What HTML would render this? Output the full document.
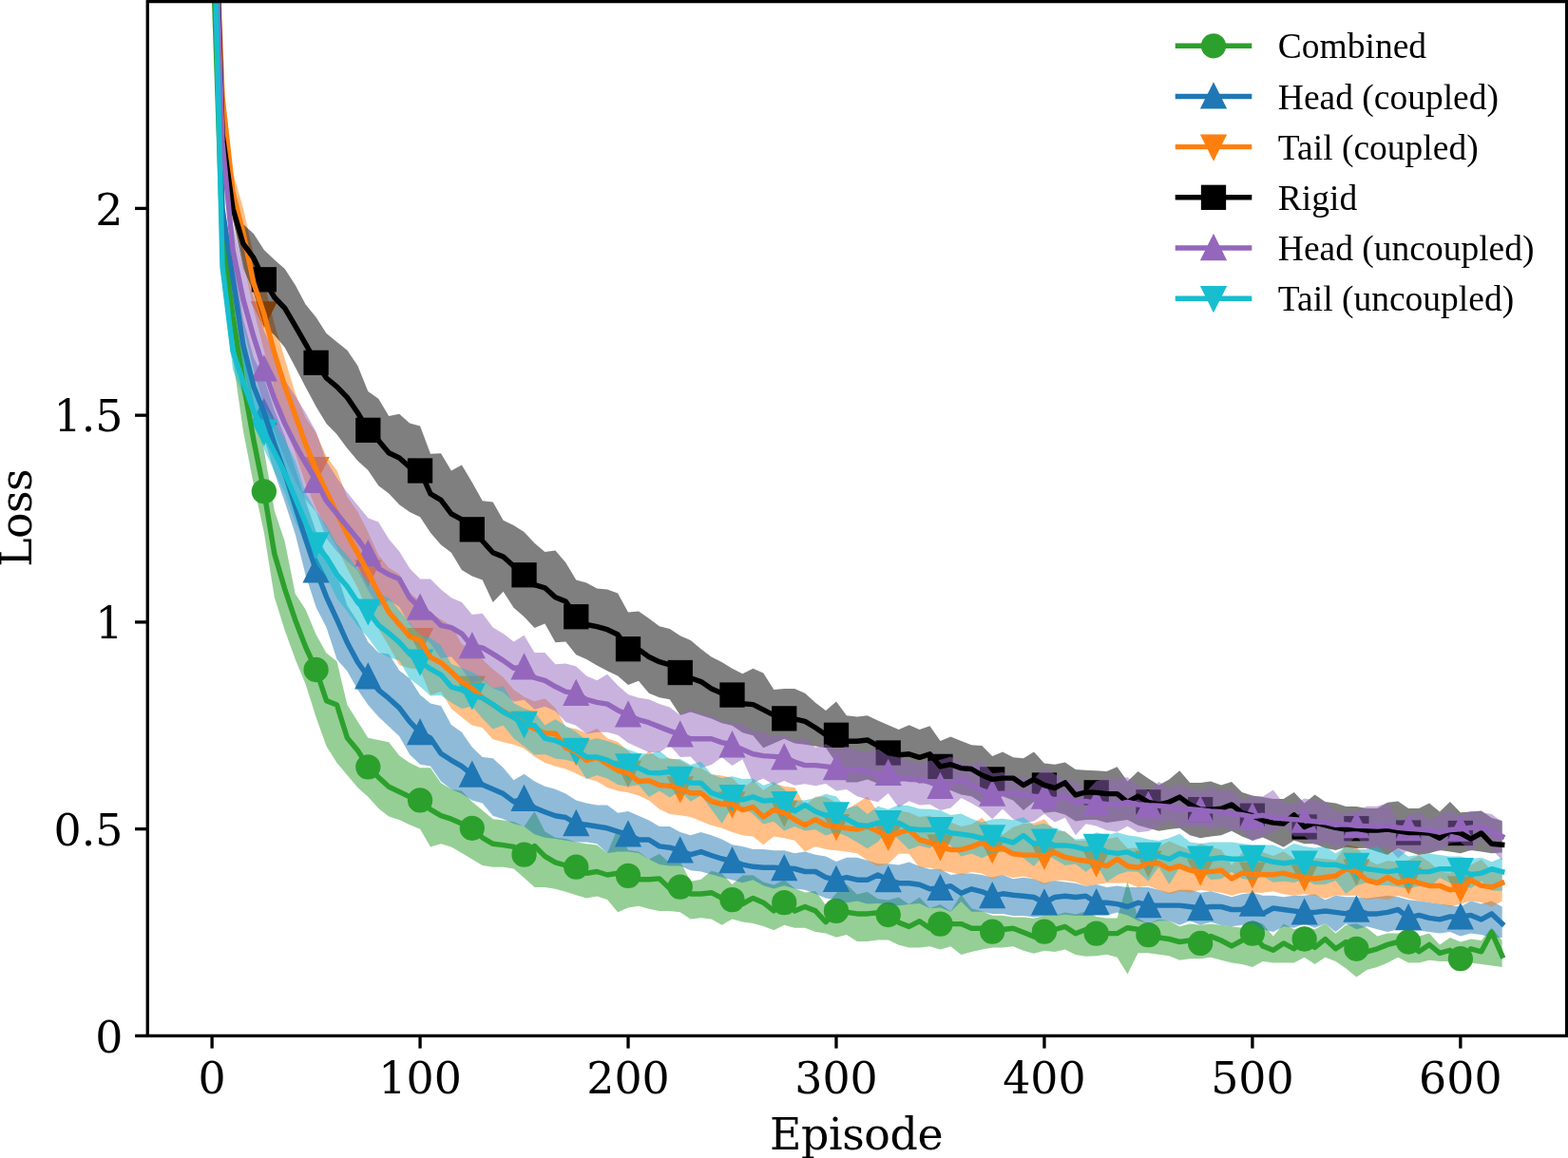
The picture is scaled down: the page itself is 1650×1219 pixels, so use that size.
<!DOCTYPE html>
<html><head><meta charset="utf-8"><title>Loss vs Episode</title>
<style>
html,body{margin:0;padding:0;background:#fff;}
body{width:1650px;height:1219px;overflow:hidden;}
svg{display:block;}
.tk{font-family:"DejaVu Serif",serif;font-size:45.83px;fill:#000;}
.lg{font-family:"Liberation Serif","Times New Roman",serif;font-size:37.5px;fill:#000;}
</style></head><body>
<svg width="1650" height="1219" viewBox="0 0 1650 1219"><defs><clipPath id="ax"><rect x="155.25" y="1.60" width="1493.35" height="1088.80"/></clipPath></defs><rect width="100%" height="100%" fill="#fff"/><g clip-path="url(#ax)"><g><circle cx="277.84" cy="517.28" r="11.55" fill="#2ca02c" stroke="#2ca02c" stroke-width="3.20" stroke-linejoin="miter" stroke-miterlimit="10"/><circle cx="332.58" cy="704.98" r="11.55" fill="#2ca02c" stroke="#2ca02c" stroke-width="3.20" stroke-linejoin="miter" stroke-miterlimit="10"/><circle cx="387.32" cy="807.33" r="11.55" fill="#2ca02c" stroke="#2ca02c" stroke-width="3.20" stroke-linejoin="miter" stroke-miterlimit="10"/><circle cx="442.06" cy="842.38" r="11.55" fill="#2ca02c" stroke="#2ca02c" stroke-width="3.20" stroke-linejoin="miter" stroke-miterlimit="10"/><circle cx="496.80" cy="871.78" r="11.55" fill="#2ca02c" stroke="#2ca02c" stroke-width="3.20" stroke-linejoin="miter" stroke-miterlimit="10"/><circle cx="551.54" cy="899.65" r="11.55" fill="#2ca02c" stroke="#2ca02c" stroke-width="3.20" stroke-linejoin="miter" stroke-miterlimit="10"/><circle cx="606.28" cy="912.72" r="11.55" fill="#2ca02c" stroke="#2ca02c" stroke-width="3.20" stroke-linejoin="miter" stroke-miterlimit="10"/><circle cx="661.02" cy="921.86" r="11.55" fill="#2ca02c" stroke="#2ca02c" stroke-width="3.20" stroke-linejoin="miter" stroke-miterlimit="10"/><circle cx="715.76" cy="933.62" r="11.55" fill="#2ca02c" stroke="#2ca02c" stroke-width="3.20" stroke-linejoin="miter" stroke-miterlimit="10"/><circle cx="770.50" cy="947.12" r="11.55" fill="#2ca02c" stroke="#2ca02c" stroke-width="3.20" stroke-linejoin="miter" stroke-miterlimit="10"/><circle cx="825.24" cy="950.17" r="11.55" fill="#2ca02c" stroke="#2ca02c" stroke-width="3.20" stroke-linejoin="miter" stroke-miterlimit="10"/><circle cx="879.98" cy="958.88" r="11.55" fill="#2ca02c" stroke="#2ca02c" stroke-width="3.20" stroke-linejoin="miter" stroke-miterlimit="10"/><circle cx="934.72" cy="963.02" r="11.55" fill="#2ca02c" stroke="#2ca02c" stroke-width="3.20" stroke-linejoin="miter" stroke-miterlimit="10"/><circle cx="989.46" cy="972.60" r="11.55" fill="#2ca02c" stroke="#2ca02c" stroke-width="3.20" stroke-linejoin="miter" stroke-miterlimit="10"/><circle cx="1044.20" cy="980.65" r="11.55" fill="#2ca02c" stroke="#2ca02c" stroke-width="3.20" stroke-linejoin="miter" stroke-miterlimit="10"/><circle cx="1098.94" cy="980.65" r="11.55" fill="#2ca02c" stroke="#2ca02c" stroke-width="3.20" stroke-linejoin="miter" stroke-miterlimit="10"/><circle cx="1153.68" cy="982.61" r="11.55" fill="#2ca02c" stroke="#2ca02c" stroke-width="3.20" stroke-linejoin="miter" stroke-miterlimit="10"/><circle cx="1208.42" cy="984.09" r="11.55" fill="#2ca02c" stroke="#2ca02c" stroke-width="3.20" stroke-linejoin="miter" stroke-miterlimit="10"/><circle cx="1263.16" cy="992.94" r="11.55" fill="#2ca02c" stroke="#2ca02c" stroke-width="3.20" stroke-linejoin="miter" stroke-miterlimit="10"/><circle cx="1317.90" cy="982.61" r="11.55" fill="#2ca02c" stroke="#2ca02c" stroke-width="3.20" stroke-linejoin="miter" stroke-miterlimit="10"/><circle cx="1372.64" cy="988.49" r="11.55" fill="#2ca02c" stroke="#2ca02c" stroke-width="3.20" stroke-linejoin="miter" stroke-miterlimit="10"/><circle cx="1427.38" cy="998.81" r="11.55" fill="#2ca02c" stroke="#2ca02c" stroke-width="3.20" stroke-linejoin="miter" stroke-miterlimit="10"/><circle cx="1482.12" cy="991.50" r="11.55" fill="#2ca02c" stroke="#2ca02c" stroke-width="3.20" stroke-linejoin="miter" stroke-miterlimit="10"/><circle cx="1536.86" cy="1009.18" r="11.55" fill="#2ca02c" stroke="#2ca02c" stroke-width="3.20" stroke-linejoin="miter" stroke-miterlimit="10"/></g>
<polygon points="223.1,-78.9 234,231.7 245,305.2 255.9,368.3 266.9,422.8 277.8,473.8 288.8,537.4 299.7,570 310.7,624.9 321.6,641.8 332.6,668 343.5,687.6 354.5,696.3 365.4,742 376.4,759.4 387.3,776.8 398.3,779 409.2,781.2 420.2,795.6 431.1,803 442.1,808.2 453,808.2 464,824.3 474.9,830.8 485.9,832.6 496.8,843.9 507.7,853.1 518.7,862.2 529.6,863.5 540.6,865.2 551.5,870 562.5,853.9 573.4,875.3 584.4,881.8 595.3,883.1 606.3,886.6 617.2,888.3 628.2,889.6 639.1,897.9 650.1,871.8 661,894.9 672,896.6 682.9,904.4 693.9,898.8 704.8,908.4 715.8,907.1 726.7,927.8 737.7,925.8 748.6,916.7 759.6,919.5 770.5,931 781.4,921.6 792.4,921.3 803.3,928.4 814.3,931.6 825.2,926.2 836.2,935.1 847.1,939.6 858.1,937.9 869,952.8 880,940.2 890.9,931 901.9,941.5 912.8,938.7 923.8,946.2 934.7,947.6 945.7,944.5 956.6,951.9 967.6,944.5 978.5,956.3 989.5,951.9 1000.4,959.3 1011.4,941.5 1022.3,956.3 1033.3,959.3 1044.2,963.7 1055.1,963.7 1066.1,965.4 1077,965.4 1088,966.7 1098.9,963.7 1109.9,963.7 1120.8,960.6 1131.8,962.4 1142.7,959.3 1153.7,965 1164.6,966.4 1175.6,966.4 1186.5,928 1197.5,966.4 1208.4,972.4 1219.4,967.8 1230.3,969.3 1241.3,975.2 1252.2,972.4 1263.2,973.7 1274.1,972.4 1285.1,973.7 1296,975.2 1307,976.7 1317.9,969.3 1328.8,972.4 1339.8,985.6 1350.7,972.4 1361.7,978.2 1372.6,975.2 1383.6,978.2 1394.5,972.3 1405.5,982.6 1416.4,973.7 1427.4,972.3 1438.3,976.7 1449.3,985.6 1460.2,982.6 1471.2,982.6 1482.1,981.1 1493.1,985.6 1504,982.6 1515,994.4 1525.9,987 1536.9,991.5 1547.8,988.5 1558.8,990 1569.7,976.7 1580.7,990 1580.7,1018 1569.7,1016.6 1558.8,1015.1 1547.8,1013.6 1536.9,1015.1 1525.9,1012.1 1515,1012.1 1504,1010.7 1493.1,1013.6 1482.1,1013.6 1471.2,1007.7 1460.2,1013.6 1449.3,1018 1438.3,1021 1427.4,1028.4 1416.4,1019.5 1405.5,1012.1 1394.5,1007.7 1383.6,1015.1 1372.6,1007.7 1361.7,1013.6 1350.7,1013.6 1339.8,1013.6 1328.8,1012.1 1317.9,1018 1307,1015.1 1296,1013.6 1285.1,1010.7 1274.1,1007.7 1263.2,1009.2 1252.2,1009.2 1241.3,1010.7 1230.3,1006.2 1219.4,1004.7 1208.4,1003.3 1197.5,1003.3 1186.5,1025.5 1175.6,1007.7 1164.6,1004.7 1153.7,1006.2 1142.7,1006.8 1131.8,1005 1120.8,999.4 1109.9,1002 1098.9,1000.7 1088,1003.7 1077,1000.7 1066.1,996.3 1055.1,997.6 1044.2,997.6 1033.3,999.4 1022.3,1002 1011.4,1005 1000.4,996.3 989.5,999.4 978.5,996.3 967.6,997.6 956.6,997.6 945.7,994.8 934.7,989.6 923.8,989.6 912.8,991.1 901.9,991.1 890.9,984.1 880,986.8 869,982.4 858.1,981.1 847.1,976.7 836.2,976.7 825.2,973.7 814.3,979.3 803.3,975 792.4,971.9 781.4,970.6 770.5,967.6 759.6,973.7 748.6,967.6 737.7,966.3 726.7,967.6 715.8,960.2 704.8,958.9 693.9,958.9 682.9,956.7 672,953.7 661,955.4 650.1,960.2 639.1,947.1 628.2,943.6 617.2,945.4 606.3,942.3 595.3,938.8 584.4,935.8 573.4,934.1 562.5,934.1 551.5,924 540.6,914.5 529.6,912.7 518.7,912.7 507.7,911 496.8,904.4 485.9,897.9 474.9,891.4 464,888.3 453,891.4 442.1,872.7 431.1,868.3 420.2,863.1 409.2,859.6 398.3,850.9 387.3,838.7 376.4,829.1 365.4,816 354.5,803 343.5,785.6 332.6,755.1 321.6,720.2 310.7,694.1 299.7,663.6 288.8,628.8 277.8,560.2 266.9,509.9 255.9,453.5 245,377.4 234,276.1 223.1,-74.6" fill="#2ca02c" fill-opacity="0.5"/>
<g><polygon points="277.84,422.55 266.29,445.65 289.39,445.65" fill="#1f77b4" stroke="#1f77b4" stroke-width="3.20" stroke-linejoin="miter" stroke-miterlimit="10"/><polygon points="332.58,588.91 321.03,612.01 344.13,612.01" fill="#1f77b4" stroke="#1f77b4" stroke-width="3.20" stroke-linejoin="miter" stroke-miterlimit="10"/><polygon points="387.32,700.84 375.77,723.94 398.87,723.94" fill="#1f77b4" stroke="#1f77b4" stroke-width="3.20" stroke-linejoin="miter" stroke-miterlimit="10"/><polygon points="442.06,759.63 430.51,782.73 453.61,782.73" fill="#1f77b4" stroke="#1f77b4" stroke-width="3.20" stroke-linejoin="miter" stroke-miterlimit="10"/><polygon points="496.80,804.05 485.25,827.15 508.35,827.15" fill="#1f77b4" stroke="#1f77b4" stroke-width="3.20" stroke-linejoin="miter" stroke-miterlimit="10"/><polygon points="551.54,829.31 539.99,852.41 563.09,852.41" fill="#1f77b4" stroke="#1f77b4" stroke-width="3.20" stroke-linejoin="miter" stroke-miterlimit="10"/><polygon points="606.28,855.44 594.73,878.54 617.83,878.54" fill="#1f77b4" stroke="#1f77b4" stroke-width="3.20" stroke-linejoin="miter" stroke-miterlimit="10"/><polygon points="661.02,866.76 649.47,889.86 672.57,889.86" fill="#1f77b4" stroke="#1f77b4" stroke-width="3.20" stroke-linejoin="miter" stroke-miterlimit="10"/><polygon points="715.76,883.75 704.21,906.85 727.31,906.85" fill="#1f77b4" stroke="#1f77b4" stroke-width="3.20" stroke-linejoin="miter" stroke-miterlimit="10"/><polygon points="770.50,894.63 758.95,917.73 782.05,917.73" fill="#1f77b4" stroke="#1f77b4" stroke-width="3.20" stroke-linejoin="miter" stroke-miterlimit="10"/><polygon points="825.24,902.47 813.69,925.57 836.79,925.57" fill="#1f77b4" stroke="#1f77b4" stroke-width="3.20" stroke-linejoin="miter" stroke-miterlimit="10"/><polygon points="879.98,914.23 868.43,937.33 891.53,937.33" fill="#1f77b4" stroke="#1f77b4" stroke-width="3.20" stroke-linejoin="miter" stroke-miterlimit="10"/><polygon points="934.72,914.67 923.17,937.77 946.27,937.77" fill="#1f77b4" stroke="#1f77b4" stroke-width="3.20" stroke-linejoin="miter" stroke-miterlimit="10"/><polygon points="989.46,923.38 977.91,946.48 1001.01,946.48" fill="#1f77b4" stroke="#1f77b4" stroke-width="3.20" stroke-linejoin="miter" stroke-miterlimit="10"/><polygon points="1044.20,931.65 1032.65,954.75 1055.75,954.75" fill="#1f77b4" stroke="#1f77b4" stroke-width="3.20" stroke-linejoin="miter" stroke-miterlimit="10"/><polygon points="1098.94,938.84 1087.39,961.94 1110.49,961.94" fill="#1f77b4" stroke="#1f77b4" stroke-width="3.20" stroke-linejoin="miter" stroke-miterlimit="10"/><polygon points="1153.68,938.62 1142.13,961.72 1165.23,961.72" fill="#1f77b4" stroke="#1f77b4" stroke-width="3.20" stroke-linejoin="miter" stroke-miterlimit="10"/><polygon points="1208.42,941.54 1196.87,964.64 1219.97,964.64" fill="#1f77b4" stroke="#1f77b4" stroke-width="3.20" stroke-linejoin="miter" stroke-miterlimit="10"/><polygon points="1263.16,944.45 1251.61,967.55 1274.71,967.55" fill="#1f77b4" stroke="#1f77b4" stroke-width="3.20" stroke-linejoin="miter" stroke-miterlimit="10"/><polygon points="1317.90,940.06 1306.35,963.16 1329.45,963.16" fill="#1f77b4" stroke="#1f77b4" stroke-width="3.20" stroke-linejoin="miter" stroke-miterlimit="10"/><polygon points="1372.64,948.85 1361.09,971.95 1384.19,971.95" fill="#1f77b4" stroke="#1f77b4" stroke-width="3.20" stroke-linejoin="miter" stroke-miterlimit="10"/><polygon points="1427.38,945.94 1415.83,969.04 1438.93,969.04" fill="#1f77b4" stroke="#1f77b4" stroke-width="3.20" stroke-linejoin="miter" stroke-miterlimit="10"/><polygon points="1482.12,954.56 1470.57,977.66 1493.67,977.66" fill="#1f77b4" stroke="#1f77b4" stroke-width="3.20" stroke-linejoin="miter" stroke-miterlimit="10"/><polygon points="1536.86,953.69 1525.31,976.79 1548.41,976.79" fill="#1f77b4" stroke="#1f77b4" stroke-width="3.20" stroke-linejoin="miter" stroke-miterlimit="10"/></g>
<polygon points="223.1,-144.2 234,206.5 245,271.7 255.9,335.8 266.9,376.4 277.8,398.3 288.8,431.9 299.7,459.6 310.7,493.5 321.6,527.3 332.6,559.8 343.5,583.6 354.5,603.7 365.4,637.5 376.4,654.2 387.3,675.7 398.3,687.1 409.2,688.4 420.2,705.7 431.1,714.2 442.1,731.5 453,740.5 464,743 474.9,763 485.9,770.7 496.8,786.5 507.7,796.9 518.7,798.2 529.6,808.2 540.6,821.3 551.5,814.7 562.5,822.6 573.4,827.8 584.4,830.8 595.3,835.6 606.3,842.6 617.2,845.6 628.2,847.4 639.1,847.4 650.1,855.7 661,853.9 672,858.7 682.9,863.5 693.9,870 704.8,870 715.8,876.1 726.7,879.2 737.7,876.1 748.6,879.2 759.6,883.5 770.5,889.2 781.4,890.9 792.4,894 803.3,894 814.3,895.3 825.2,895.3 836.2,898.3 847.1,896.6 858.1,899.7 869,901.4 880,907.1 890.9,902.7 901.9,902.7 912.8,905.7 923.8,909.2 934.7,909.2 945.7,910.5 956.6,907.5 967.6,912.1 978.5,914.9 989.5,914.9 1000.4,921 1011.4,919.5 1022.3,919.5 1033.3,921 1044.2,923.8 1055.1,921 1066.1,925.3 1077,923.8 1088,925.3 1098.9,929.7 1109.9,926.9 1120.8,928.4 1131.8,929.7 1142.7,932.7 1153.7,930.9 1164.6,933.9 1175.6,932.4 1186.5,933.9 1197.5,933.9 1208.4,933.9 1219.4,936.8 1230.3,939.8 1241.3,936.8 1252.2,936.8 1263.2,939.8 1274.1,938.3 1285.1,941.2 1296,944.2 1307,941.2 1317.9,939.8 1328.8,942.7 1339.8,942.7 1350.7,944.2 1361.7,942.7 1372.6,942.8 1383.6,941.2 1394.5,947.2 1405.5,942.8 1416.4,944.2 1427.4,944.2 1438.3,945.7 1449.3,944.2 1460.2,942.8 1471.2,944.2 1482.1,947.2 1493.1,948.6 1504,950.1 1515,951.6 1525.9,953.1 1536.9,954.5 1547.8,948.6 1558.8,951.6 1569.7,948.6 1580.7,954.5 1580.7,987 1569.7,987 1558.8,984.1 1547.8,982.6 1536.9,985.6 1525.9,981.1 1515,982.6 1504,981.1 1493.1,979.6 1482.1,979.6 1471.2,978.2 1460.2,981.1 1449.3,978.2 1438.3,975.2 1427.4,978.2 1416.4,972.3 1405.5,981.1 1394.5,972.3 1383.6,976.7 1372.6,972.3 1361.7,976.7 1350.7,975.2 1339.8,981.1 1328.8,978.2 1317.9,972.3 1307,973.7 1296,975.2 1285.1,973.7 1274.1,970.8 1263.2,973.7 1252.2,969.3 1241.3,973.7 1230.3,969.3 1219.4,969.3 1208.4,972.3 1197.5,969.3 1186.5,963.4 1175.6,960.4 1164.6,963.4 1153.7,963.4 1142.7,964.1 1131.8,964.1 1120.8,962.8 1109.9,964.1 1098.9,964.1 1088,965.4 1077,964.1 1066.1,964.1 1055.1,961.9 1044.2,961.9 1033.3,959.8 1022.3,959.8 1011.4,948.9 1000.4,959.8 989.5,955.4 978.5,956.3 967.6,951 956.6,951.9 945.7,953.2 934.7,951.9 923.8,951 912.8,951.5 901.9,948.4 890.9,950.2 880,947.1 869,945.4 858.1,941 847.1,936.7 836.2,935.4 825.2,932.3 814.3,935.4 803.3,932.3 792.4,926.2 781.4,929.3 770.5,926.2 759.6,923.6 748.6,920.6 737.7,917.5 726.7,916.2 715.8,911.4 704.8,911.4 693.9,910.1 682.9,904.4 672,897.9 661,896.6 650.1,896.6 639.1,897.9 628.2,888.3 617.2,886.6 606.3,886.6 595.3,884.8 584.4,883.1 573.4,881.8 562.5,878.3 551.5,870 540.6,867 529.6,862.2 518.7,858.7 507.7,845.6 496.8,842.6 485.9,835.6 474.9,830.8 464,822.6 453,806.5 442.1,804.7 431.1,794.2 420.2,774.9 409.2,764.7 398.3,754.4 387.3,742.1 376.4,726 365.4,706.5 354.5,694 343.5,660.5 332.6,639.2 321.6,605.4 310.7,562.3 299.7,528.4 288.8,497.4 277.8,460.8 266.9,435.6 255.9,385.2 245,312.7 234,233.2 223.1,-139.9" fill="#1f77b4" fill-opacity="0.5"/>
<g><polygon points="277.84,342.00 266.29,318.90 289.39,318.90" fill="#ff7f0e" stroke="#ff7f0e" stroke-width="3.20" stroke-linejoin="miter" stroke-miterlimit="10"/><polygon points="332.58,505.75 321.03,482.65 344.13,482.65" fill="#ff7f0e" stroke="#ff7f0e" stroke-width="3.20" stroke-linejoin="miter" stroke-miterlimit="10"/><polygon points="387.32,614.19 375.77,591.09 398.87,591.09" fill="#ff7f0e" stroke="#ff7f0e" stroke-width="3.20" stroke-linejoin="miter" stroke-miterlimit="10"/><polygon points="442.06,685.61 430.51,662.51 453.61,662.51" fill="#ff7f0e" stroke="#ff7f0e" stroke-width="3.20" stroke-linejoin="miter" stroke-miterlimit="10"/><polygon points="496.80,736.13 485.25,713.03 508.35,713.03" fill="#ff7f0e" stroke="#ff7f0e" stroke-width="3.20" stroke-linejoin="miter" stroke-miterlimit="10"/><polygon points="551.54,773.15 539.99,750.05 563.09,750.05" fill="#ff7f0e" stroke="#ff7f0e" stroke-width="3.20" stroke-linejoin="miter" stroke-miterlimit="10"/><polygon points="606.28,802.76 594.73,779.66 617.83,779.66" fill="#ff7f0e" stroke="#ff7f0e" stroke-width="3.20" stroke-linejoin="miter" stroke-miterlimit="10"/><polygon points="661.02,825.41 649.47,802.31 672.57,802.31" fill="#ff7f0e" stroke="#ff7f0e" stroke-width="3.20" stroke-linejoin="miter" stroke-miterlimit="10"/><polygon points="715.76,841.96 704.21,818.86 727.31,818.86" fill="#ff7f0e" stroke="#ff7f0e" stroke-width="3.20" stroke-linejoin="miter" stroke-miterlimit="10"/><polygon points="770.50,858.07 758.95,834.97 782.05,834.97" fill="#ff7f0e" stroke="#ff7f0e" stroke-width="3.20" stroke-linejoin="miter" stroke-miterlimit="10"/><polygon points="825.24,867.22 813.69,844.12 836.79,844.12" fill="#ff7f0e" stroke="#ff7f0e" stroke-width="3.20" stroke-linejoin="miter" stroke-miterlimit="10"/><polygon points="879.98,881.59 868.43,858.49 891.53,858.49" fill="#ff7f0e" stroke="#ff7f0e" stroke-width="3.20" stroke-linejoin="miter" stroke-miterlimit="10"/><polygon points="934.72,892.47 923.17,869.37 946.27,869.37" fill="#ff7f0e" stroke="#ff7f0e" stroke-width="3.20" stroke-linejoin="miter" stroke-miterlimit="10"/><polygon points="989.46,902.93 977.91,879.83 1001.01,879.83" fill="#ff7f0e" stroke="#ff7f0e" stroke-width="3.20" stroke-linejoin="miter" stroke-miterlimit="10"/><polygon points="1044.20,905.98 1032.65,882.88 1055.75,882.88" fill="#ff7f0e" stroke="#ff7f0e" stroke-width="3.20" stroke-linejoin="miter" stroke-miterlimit="10"/><polygon points="1098.94,912.51 1087.39,889.41 1110.49,889.41" fill="#ff7f0e" stroke="#ff7f0e" stroke-width="3.20" stroke-linejoin="miter" stroke-miterlimit="10"/><polygon points="1153.68,920.26 1142.13,897.16 1165.23,897.16" fill="#ff7f0e" stroke="#ff7f0e" stroke-width="3.20" stroke-linejoin="miter" stroke-miterlimit="10"/><polygon points="1208.42,920.26 1196.87,897.16 1219.97,897.16" fill="#ff7f0e" stroke="#ff7f0e" stroke-width="3.20" stroke-linejoin="miter" stroke-miterlimit="10"/><polygon points="1263.16,929.14 1251.61,906.04 1274.71,906.04" fill="#ff7f0e" stroke="#ff7f0e" stroke-width="3.20" stroke-linejoin="miter" stroke-miterlimit="10"/><polygon points="1317.90,932.11 1306.35,909.01 1329.45,909.01" fill="#ff7f0e" stroke="#ff7f0e" stroke-width="3.20" stroke-linejoin="miter" stroke-miterlimit="10"/><polygon points="1372.64,935.07 1361.09,911.97 1384.19,911.97" fill="#ff7f0e" stroke="#ff7f0e" stroke-width="3.20" stroke-linejoin="miter" stroke-miterlimit="10"/><polygon points="1427.38,929.14 1415.83,906.04 1438.93,906.04" fill="#ff7f0e" stroke="#ff7f0e" stroke-width="3.20" stroke-linejoin="miter" stroke-miterlimit="10"/><polygon points="1482.12,938.03 1470.57,914.93 1493.67,914.93" fill="#ff7f0e" stroke="#ff7f0e" stroke-width="3.20" stroke-linejoin="miter" stroke-miterlimit="10"/><polygon points="1536.86,946.87 1525.31,923.77 1548.41,923.77" fill="#ff7f0e" stroke="#ff7f0e" stroke-width="3.20" stroke-linejoin="miter" stroke-miterlimit="10"/></g>
<polygon points="223.1,-174.7 234,89.1 245,181 255.9,219.1 266.9,268.3 277.8,296.3 288.8,341.3 299.7,377.7 310.7,413.7 321.6,439.8 332.6,455.7 343.5,480.7 354.5,495.3 365.4,523.3 376.4,538.5 387.3,560.2 398.3,584.6 409.2,597.7 420.2,604.5 431.1,624 442.1,632.7 453,645.4 464,652 474.9,658.6 485.9,678.1 496.8,683.4 507.7,694.1 518.7,704.6 529.6,712.9 540.6,725.9 551.5,733.5 562.5,738.2 573.4,735.2 584.4,745.3 595.3,765.3 606.3,767.3 617.2,771.9 628.2,766.8 639.1,777.3 650.1,780.9 661,790.4 672,800 682.9,790.7 693.9,798.6 704.8,798.2 715.8,800.4 726.7,806.6 737.7,808.5 748.6,814.9 759.6,816.5 770.5,818.7 781.4,829.9 792.4,821.5 803.3,832.1 814.3,824.6 825.2,827.8 836.2,828.9 847.1,847.9 858.1,838.6 869,838.8 880,845.2 890.9,852 901.9,845.6 912.8,838.6 923.8,854.9 934.7,857.9 945.7,853.5 956.6,855.3 967.6,860 978.5,858.4 989.5,867.6 1000.4,865.4 1011.4,870.1 1022.3,867.7 1033.3,860.7 1044.2,872 1055.1,878.7 1066.1,870.8 1077,867 1088,866.5 1098.9,862.3 1109.9,874.8 1120.8,875 1131.8,884.9 1142.7,884.7 1153.7,887.6 1164.6,883.6 1175.6,881 1186.5,893.1 1197.5,892.5 1208.4,892.3 1219.4,891.1 1230.3,885.6 1241.3,890.3 1252.2,894.4 1263.2,888.1 1274.1,891.8 1285.1,894.4 1296,910.8 1307,897.7 1317.9,903.5 1328.8,896.9 1339.8,901 1350.7,896.3 1361.7,903.9 1372.6,906.5 1383.6,903.3 1394.5,904 1405.5,905.5 1416.4,889.2 1427.4,891.6 1438.3,904.9 1449.3,909.9 1460.2,906.1 1471.2,907.5 1482.1,905.4 1493.1,900.6 1504,907.3 1515,917.6 1525.9,919.1 1536.9,911.3 1547.8,910.5 1558.8,904.8 1569.7,916.5 1580.7,915.7 1580.7,948.6 1569.7,954.5 1558.8,950.1 1547.8,948.6 1536.9,951.6 1525.9,954.5 1515,951.6 1504,950.1 1493.1,948.6 1482.1,945.7 1471.2,942.8 1460.2,947.2 1449.3,945.7 1438.3,947.2 1427.4,942.8 1416.4,942.8 1405.5,942.8 1394.5,945.7 1383.6,942.8 1372.6,941.2 1361.7,942.7 1350.7,941.2 1339.8,938.3 1328.8,939.8 1317.9,939.8 1307,939.8 1296,942.7 1285.1,939.8 1274.1,938.3 1263.2,936.8 1252.2,939.8 1241.3,938.3 1230.3,941.2 1219.4,936.8 1208.4,932.4 1197.5,933.9 1186.5,929.4 1175.6,929.4 1164.6,929.4 1153.7,930.9 1142.7,932.7 1131.8,928.4 1120.8,926.8 1109.9,926.8 1098.9,931.2 1088,925.3 1077,922.4 1066.1,923.9 1055.1,921 1044.2,925.3 1033.3,919.4 1022.3,917.9 1011.4,921 1000.4,917.9 989.5,916.5 978.5,913.6 967.6,913.6 956.6,898.8 945.7,898.8 934.7,909.2 923.8,912 912.8,905.7 901.9,898.3 890.9,896.6 880,895.3 869,894 858.1,890.9 847.1,896.6 836.2,884.8 825.2,882.2 814.3,880.5 803.3,889.2 792.4,880.5 781.4,879.2 770.5,876.1 759.6,871.8 748.6,868.7 737.7,864.4 726.7,860 715.8,858.3 704.8,857 693.9,851.7 682.9,842.6 672,837.4 661,834.3 650.1,832.6 639.1,829.1 628.2,822.6 617.2,819.5 606.3,814.3 595.3,809.5 584.4,806.5 573.4,803 562.5,796.4 551.5,788 540.6,783.7 529.6,781.2 518.7,778.2 507.7,766.1 496.8,763.4 485.9,755 474.9,745.9 464,727.9 453,731.7 442.1,705 431.1,703.4 420.2,700.1 409.2,679.9 398.3,662 387.3,645.3 376.4,618.8 365.4,598.4 354.5,576.6 343.5,556.9 332.6,535.3 321.6,508.9 310.7,477 299.7,443.7 288.8,410.9 277.8,369.1 266.9,326.3 255.9,275.9 245,225.3 234,119.1 223.1,-170.4" fill="#ff7f0e" fill-opacity="0.5"/>
<g><rect x="266.29" y="282.76" width="23.10" height="23.10" fill="#000000" stroke="#000000" stroke-width="3.20" stroke-linejoin="miter" stroke-miterlimit="10"/><rect x="321.03" y="370.29" width="23.10" height="23.10" fill="#000000" stroke="#000000" stroke-width="3.20" stroke-linejoin="miter" stroke-miterlimit="10"/><rect x="375.77" y="441.28" width="23.10" height="23.10" fill="#000000" stroke="#000000" stroke-width="3.20" stroke-linejoin="miter" stroke-miterlimit="10"/><rect x="430.51" y="483.96" width="23.10" height="23.10" fill="#000000" stroke="#000000" stroke-width="3.20" stroke-linejoin="miter" stroke-miterlimit="10"/><rect x="485.25" y="545.80" width="23.10" height="23.10" fill="#000000" stroke="#000000" stroke-width="3.20" stroke-linejoin="miter" stroke-miterlimit="10"/><rect x="539.99" y="593.70" width="23.10" height="23.10" fill="#000000" stroke="#000000" stroke-width="3.20" stroke-linejoin="miter" stroke-miterlimit="10"/><rect x="594.73" y="637.69" width="23.10" height="23.10" fill="#000000" stroke="#000000" stroke-width="3.20" stroke-linejoin="miter" stroke-miterlimit="10"/><rect x="649.47" y="671.66" width="23.10" height="23.10" fill="#000000" stroke="#000000" stroke-width="3.20" stroke-linejoin="miter" stroke-miterlimit="10"/><rect x="704.21" y="696.48" width="23.10" height="23.10" fill="#000000" stroke="#000000" stroke-width="3.20" stroke-linejoin="miter" stroke-miterlimit="10"/><rect x="758.95" y="720.00" width="23.10" height="23.10" fill="#000000" stroke="#000000" stroke-width="3.20" stroke-linejoin="miter" stroke-miterlimit="10"/><rect x="813.69" y="744.82" width="23.10" height="23.10" fill="#000000" stroke="#000000" stroke-width="3.20" stroke-linejoin="miter" stroke-miterlimit="10"/><rect x="868.43" y="762.24" width="23.10" height="23.10" fill="#000000" stroke="#000000" stroke-width="3.20" stroke-linejoin="miter" stroke-miterlimit="10"/><rect x="923.17" y="780.97" width="23.10" height="23.10" fill="#000000" stroke="#000000" stroke-width="3.20" stroke-linejoin="miter" stroke-miterlimit="10"/><rect x="977.91" y="795.34" width="23.10" height="23.10" fill="#000000" stroke="#000000" stroke-width="3.20" stroke-linejoin="miter" stroke-miterlimit="10"/><rect x="1032.65" y="808.84" width="23.10" height="23.10" fill="#000000" stroke="#000000" stroke-width="3.20" stroke-linejoin="miter" stroke-miterlimit="10"/><rect x="1087.39" y="814.94" width="23.10" height="23.10" fill="#000000" stroke="#000000" stroke-width="3.20" stroke-linejoin="miter" stroke-miterlimit="10"/><rect x="1142.13" y="822.78" width="23.10" height="23.10" fill="#000000" stroke="#000000" stroke-width="3.20" stroke-linejoin="miter" stroke-miterlimit="10"/><rect x="1196.87" y="832.79" width="23.10" height="23.10" fill="#000000" stroke="#000000" stroke-width="3.20" stroke-linejoin="miter" stroke-miterlimit="10"/><rect x="1251.61" y="840.63" width="23.10" height="23.10" fill="#000000" stroke="#000000" stroke-width="3.20" stroke-linejoin="miter" stroke-miterlimit="10"/><rect x="1306.35" y="847.16" width="23.10" height="23.10" fill="#000000" stroke="#000000" stroke-width="3.20" stroke-linejoin="miter" stroke-miterlimit="10"/><rect x="1361.09" y="858.92" width="23.10" height="23.10" fill="#000000" stroke="#000000" stroke-width="3.20" stroke-linejoin="miter" stroke-miterlimit="10"/><rect x="1415.83" y="860.66" width="23.10" height="23.10" fill="#000000" stroke="#000000" stroke-width="3.20" stroke-linejoin="miter" stroke-miterlimit="10"/><rect x="1470.57" y="865.02" width="23.10" height="23.10" fill="#000000" stroke="#000000" stroke-width="3.20" stroke-linejoin="miter" stroke-miterlimit="10"/><rect x="1525.31" y="865.46" width="23.10" height="23.10" fill="#000000" stroke="#000000" stroke-width="3.20" stroke-linejoin="miter" stroke-miterlimit="10"/></g>
<polygon points="223.1,-218.3 234,136.5 245,204.1 255.9,236 266.9,246 277.8,263 288.8,273.4 299.7,283 310.7,300 321.6,320.4 332.6,333.9 343.5,350.9 354.5,360.1 365.4,368.8 376.4,384.9 387.3,411.9 398.3,419.7 409.2,438 420.2,435.8 431.1,445.4 442.1,448.5 453,477.7 464,477.2 474.9,495.5 485.9,489.4 496.8,507.7 507.7,527.3 518.7,528.6 529.6,547.8 540.6,553 551.5,560 562.5,571.7 573.4,580.9 584.4,579.6 595.3,592.2 606.3,610.5 617.2,613.5 628.2,619.6 639.1,620.5 650.1,624.4 661,644.4 672,643.6 682.9,651 693.9,659.3 704.8,661.9 715.8,669.3 726.7,674.1 737.7,683.2 748.6,691.5 759.6,697.1 770.5,703.7 781.4,709.3 792.4,703.7 803.3,708.5 814.3,725.9 825.2,725 836.2,725 847.1,729.8 858.1,739.8 869,748.1 880,738.5 890.9,753.3 901.9,754.6 912.8,753.3 923.8,758.5 934.7,763.3 945.7,768.1 956.6,763.3 967.6,768.1 978.5,764.2 989.5,779.9 1000.4,775.5 1011.4,779.9 1022.3,784.2 1033.3,785.1 1044.2,796 1055.1,791.6 1066.1,797.3 1077,798.2 1088,791.6 1098.9,803.4 1109.9,804.7 1120.8,802.5 1131.8,809.9 1142.7,810.8 1153.7,811.2 1164.6,812.1 1175.6,807.3 1186.5,822.6 1197.5,812.1 1208.4,819.5 1219.4,826.5 1230.3,820.4 1241.3,811.2 1252.2,823.9 1263.2,823.9 1274.1,822.6 1285.1,826.5 1296,823 1307,833.9 1317.9,837.4 1328.8,839.1 1339.8,840.9 1350.7,840.9 1361.7,833.9 1372.6,845.6 1383.6,836.5 1394.5,843.9 1405.5,845.6 1416.4,849.1 1427.4,849.1 1438.3,850.9 1449.3,850.9 1460.2,844.8 1471.2,843.5 1482.1,850.9 1493.1,850.9 1504,845.6 1515,854.4 1525.9,843.9 1536.9,855.2 1547.8,854.4 1558.8,853.5 1569.7,860.9 1580.7,863.9 1580.7,897.5 1569.7,898.3 1558.8,896.6 1547.8,894.9 1536.9,898.3 1525.9,896.6 1515,894.9 1504,898.3 1493.1,900.1 1482.1,896.6 1471.2,893.1 1460.2,900.1 1449.3,896.6 1438.3,892.7 1427.4,893.1 1416.4,891.8 1405.5,894.9 1394.5,892.7 1383.6,888.3 1372.6,888.3 1361.7,884.8 1350.7,891.8 1339.8,886.6 1328.8,881.4 1317.9,884.8 1307,880.5 1296,874.8 1285.1,879.2 1274.1,880.5 1263.2,882.2 1252.2,879.2 1241.3,871.8 1230.3,873.1 1219.4,874.8 1208.4,871.8 1197.5,868.7 1186.5,863.1 1175.6,864.4 1164.6,866.1 1153.7,863.1 1142.7,863.1 1131.8,864.4 1120.8,857.4 1109.9,854.4 1098.9,855.7 1088,843.9 1077,853.1 1066.1,842.6 1055.1,838.2 1044.2,842.6 1033.3,845.6 1022.3,838.2 1011.4,836.5 1000.4,832.1 989.5,832.1 978.5,823.4 967.6,824.7 956.6,820.4 945.7,823.4 934.7,824.7 923.8,824.7 912.8,820.4 901.9,823.4 890.9,823.4 880,803 869,787.3 858.1,785.6 847.1,783.8 836.2,782.5 825.2,777.7 814.3,782.5 803.3,787.3 792.4,774.2 781.4,771.2 770.5,763.8 759.6,761.2 748.6,756.4 737.7,752.9 726.7,749.4 715.8,752.9 704.8,736.3 693.9,734.2 682.9,729.8 672,716.7 661,721.1 650.1,711.5 639.1,706.3 628.2,700.6 617.2,694.1 606.3,689.3 595.3,675.4 584.4,676.2 573.4,656.6 562.5,661 551.5,649.2 540.6,639.7 529.6,622.7 518.7,634 507.7,610.5 496.8,606.6 485.9,600 474.9,581.7 464,573.5 453,560.8 442.1,544.3 431.1,539.1 420.2,531.2 409.2,519.5 398.3,511.2 387.3,495.1 376.4,485.1 365.4,472 354.5,457.2 343.5,445.9 332.6,428 321.6,407.5 310.7,386.6 299.7,365.7 288.8,352.7 277.8,343.1 266.9,308.5 255.9,282.2 245,231 234,144.9 223.1,-213.9" fill="#000000" fill-opacity="0.5"/>
<g><polygon points="277.84,376.82 266.29,399.92 289.39,399.92" fill="#9467bd" stroke="#9467bd" stroke-width="3.20" stroke-linejoin="miter" stroke-miterlimit="10"/><polygon points="332.58,494.41 321.03,517.51 344.13,517.51" fill="#9467bd" stroke="#9467bd" stroke-width="3.20" stroke-linejoin="miter" stroke-miterlimit="10"/><polygon points="387.32,571.49 375.77,594.59 398.87,594.59" fill="#9467bd" stroke="#9467bd" stroke-width="3.20" stroke-linejoin="miter" stroke-miterlimit="10"/><polygon points="442.06,628.11 430.51,651.21 453.61,651.21" fill="#9467bd" stroke="#9467bd" stroke-width="3.20" stroke-linejoin="miter" stroke-miterlimit="10"/><polygon points="496.80,668.61 485.25,691.71 508.35,691.71" fill="#9467bd" stroke="#9467bd" stroke-width="3.20" stroke-linejoin="miter" stroke-miterlimit="10"/><polygon points="551.54,690.82 539.99,713.92 563.09,713.92" fill="#9467bd" stroke="#9467bd" stroke-width="3.20" stroke-linejoin="miter" stroke-miterlimit="10"/><polygon points="606.28,718.26 594.73,741.36 617.83,741.36" fill="#9467bd" stroke="#9467bd" stroke-width="3.20" stroke-linejoin="miter" stroke-miterlimit="10"/><polygon points="661.02,740.90 649.47,764.00 672.57,764.00" fill="#9467bd" stroke="#9467bd" stroke-width="3.20" stroke-linejoin="miter" stroke-miterlimit="10"/><polygon points="715.76,761.81 704.21,784.91 727.31,784.91" fill="#9467bd" stroke="#9467bd" stroke-width="3.20" stroke-linejoin="miter" stroke-miterlimit="10"/><polygon points="770.50,772.69 758.95,795.79 782.05,795.79" fill="#9467bd" stroke="#9467bd" stroke-width="3.20" stroke-linejoin="miter" stroke-miterlimit="10"/><polygon points="825.24,785.76 813.69,808.86 836.79,808.86" fill="#9467bd" stroke="#9467bd" stroke-width="3.20" stroke-linejoin="miter" stroke-miterlimit="10"/><polygon points="879.98,796.65 868.43,819.75 891.53,819.75" fill="#9467bd" stroke="#9467bd" stroke-width="3.20" stroke-linejoin="miter" stroke-miterlimit="10"/><polygon points="934.72,802.31 923.17,825.41 946.27,825.41" fill="#9467bd" stroke="#9467bd" stroke-width="3.20" stroke-linejoin="miter" stroke-miterlimit="10"/><polygon points="989.46,816.24 977.91,839.34 1001.01,839.34" fill="#9467bd" stroke="#9467bd" stroke-width="3.20" stroke-linejoin="miter" stroke-miterlimit="10"/><polygon points="1044.20,824.08 1032.65,847.18 1055.75,847.18" fill="#9467bd" stroke="#9467bd" stroke-width="3.20" stroke-linejoin="miter" stroke-miterlimit="10"/><polygon points="1098.94,827.13 1087.39,850.23 1110.49,850.23" fill="#9467bd" stroke="#9467bd" stroke-width="3.20" stroke-linejoin="miter" stroke-miterlimit="10"/><polygon points="1153.68,834.10 1142.13,857.20 1165.23,857.20" fill="#9467bd" stroke="#9467bd" stroke-width="3.20" stroke-linejoin="miter" stroke-miterlimit="10"/><polygon points="1208.42,836.28 1196.87,859.38 1219.97,859.38" fill="#9467bd" stroke="#9467bd" stroke-width="3.20" stroke-linejoin="miter" stroke-miterlimit="10"/><polygon points="1263.16,841.07 1251.61,864.17 1274.71,864.17" fill="#9467bd" stroke="#9467bd" stroke-width="3.20" stroke-linejoin="miter" stroke-miterlimit="10"/><polygon points="1317.90,848.04 1306.35,871.13 1329.45,871.13" fill="#9467bd" stroke="#9467bd" stroke-width="3.20" stroke-linejoin="miter" stroke-miterlimit="10"/><polygon points="1372.64,851.95 1361.09,875.05 1384.19,875.05" fill="#9467bd" stroke="#9467bd" stroke-width="3.20" stroke-linejoin="miter" stroke-miterlimit="10"/><polygon points="1427.38,857.62 1415.83,880.72 1438.93,880.72" fill="#9467bd" stroke="#9467bd" stroke-width="3.20" stroke-linejoin="miter" stroke-miterlimit="10"/><polygon points="1482.12,860.66 1470.57,883.76 1493.67,883.76" fill="#9467bd" stroke="#9467bd" stroke-width="3.20" stroke-linejoin="miter" stroke-miterlimit="10"/><polygon points="1536.86,861.10 1525.31,884.20 1548.41,884.20" fill="#9467bd" stroke="#9467bd" stroke-width="3.20" stroke-linejoin="miter" stroke-miterlimit="10"/></g>
<polygon points="223.1,-196.5 234,132 245,236.1 255.9,280.9 266.9,312.5 277.8,348.2 288.8,372.6 299.7,400 310.7,416.9 321.6,434.5 332.6,454.6 343.5,485.5 354.5,502.9 365.4,518.6 376.4,532.1 387.3,545.2 398.3,549.5 409.2,567.4 420.2,580.4 431.1,598.3 442.1,609.6 453,609.6 464,620.5 474.9,629.2 485.9,634 496.8,647.1 507.7,645.8 518.7,660.6 529.6,667.1 540.6,675.4 551.5,668.8 562.5,687.1 573.4,687.1 584.4,699.3 595.3,698.5 606.3,701.5 617.2,711.5 628.2,716.3 639.1,709.8 650.1,721.5 661,731.1 672,734.6 682.9,736.3 693.9,741.1 704.8,744.6 715.8,752.9 726.7,746.4 737.7,751.1 748.6,752.9 759.6,759.4 770.5,761.2 781.4,761.6 792.4,769.6 803.3,770.5 814.3,775.6 825.2,773.8 836.2,779.5 847.1,776.6 858.1,787.1 869,783.3 880,788.9 890.9,785.5 901.9,790.2 912.8,791.5 923.8,788.8 934.7,789.2 945.7,795.9 956.6,800.6 967.6,804.3 978.5,800.8 989.5,799.7 1000.4,796.5 1011.4,802.5 1022.3,805.1 1033.3,800.7 1044.2,814 1055.1,813.1 1066.1,816.6 1077,817.9 1088,819.9 1098.9,807.9 1109.9,814.9 1120.8,820.4 1131.8,822.5 1142.7,833.7 1153.7,822.2 1164.6,819.2 1175.6,820 1186.5,818.3 1197.5,826.9 1208.4,832 1219.4,822.9 1230.3,828.9 1241.3,825.5 1252.2,830.2 1263.2,832.8 1274.1,828.4 1285.1,832.2 1296,831.1 1307,842 1317.9,838.4 1328.8,838.4 1339.8,831.4 1350.7,845.7 1361.7,846.1 1372.6,840.6 1383.6,842.5 1394.5,844 1405.5,854.6 1416.4,855.4 1427.4,854.5 1438.3,848.8 1449.3,848.8 1460.2,845.2 1471.2,862.9 1482.1,860.7 1493.1,854.2 1504,863.5 1515,857.3 1525.9,853.2 1536.9,859.3 1547.8,853.7 1558.8,855.3 1569.7,857.1 1580.7,865.2 1580.7,905.6 1569.7,894.3 1558.8,881.6 1547.8,896.1 1536.9,886.5 1525.9,887.5 1515,895.7 1504,895.2 1493.1,897.4 1482.1,894.3 1471.2,903.5 1460.2,891.2 1449.3,892.7 1438.3,893.7 1427.4,879.9 1416.4,890.6 1405.5,891.3 1394.5,886.6 1383.6,889.4 1372.6,880.6 1361.7,880.6 1350.7,868.9 1339.8,876.1 1328.8,880.8 1317.9,885.4 1307,873.9 1296,873.8 1285.1,870.6 1274.1,873.3 1263.2,870.1 1252.2,870.4 1241.3,871.1 1230.3,864.8 1219.4,869.5 1208.4,875 1197.5,876.3 1186.5,869.8 1175.6,875.7 1164.6,874 1153.7,869.5 1142.7,867.3 1131.8,879.3 1120.8,860.7 1109.9,865.4 1098.9,856.7 1088,864.4 1077,866.6 1066.1,862.3 1055.1,851.6 1044.2,862.3 1033.3,851.9 1022.3,845.5 1011.4,840.1 1000.4,850.4 989.5,853.1 978.5,846.7 967.6,847.4 956.6,843.2 945.7,850 934.7,835 923.8,844.3 912.8,841.6 901.9,838.2 890.9,830.9 880,832.6 869,825.1 858.1,827.2 847.1,825.3 836.2,826.7 825.2,822 814.3,826.6 803.3,819.5 792.4,824.2 781.4,799.3 770.5,806 759.6,797.3 748.6,805 737.7,808.6 726.7,796.4 715.8,796.9 704.8,784.4 693.9,792.1 682.9,792.1 672,786.9 661,782.1 650.1,773.8 639.1,770.7 628.2,770.7 617.2,772.5 606.3,763.8 595.3,759.9 584.4,748.5 573.4,743.8 562.5,746.7 551.5,736.8 540.6,738.4 529.6,728.7 518.7,724.6 507.7,715.6 496.8,719.3 485.9,704.1 474.9,691.3 464,693 453,677.5 442.1,667.7 431.1,657.4 420.2,638.7 409.2,632.1 398.3,638.6 387.3,621.6 376.4,600.7 365.4,591 354.5,580.6 343.5,566.7 332.6,539.1 321.6,526 310.7,507 299.7,482.6 288.8,453.7 277.8,427 266.9,389 255.9,343.7 245,287.4 234,167.3 223.1,-192.1" fill="#9467bd" fill-opacity="0.5"/>
<g><polygon points="277.84,466.12 266.29,443.02 289.39,443.02" fill="#17becf" stroke="#17becf" stroke-width="3.20" stroke-linejoin="miter" stroke-miterlimit="10"/><polygon points="332.58,585.01 321.03,561.91 344.13,561.91" fill="#17becf" stroke="#17becf" stroke-width="3.20" stroke-linejoin="miter" stroke-miterlimit="10"/><polygon points="387.32,655.13 375.77,632.03 398.87,632.03" fill="#17becf" stroke="#17becf" stroke-width="3.20" stroke-linejoin="miter" stroke-miterlimit="10"/><polygon points="442.06,708.26 430.51,685.16 453.61,685.16" fill="#17becf" stroke="#17becf" stroke-width="3.20" stroke-linejoin="miter" stroke-miterlimit="10"/><polygon points="496.80,743.97 485.25,720.87 508.35,720.87" fill="#17becf" stroke="#17becf" stroke-width="3.20" stroke-linejoin="miter" stroke-miterlimit="10"/><polygon points="551.54,774.02 539.99,750.92 563.09,750.92" fill="#17becf" stroke="#17becf" stroke-width="3.20" stroke-linejoin="miter" stroke-miterlimit="10"/><polygon points="606.28,801.46 594.73,778.36 617.83,778.36" fill="#17becf" stroke="#17becf" stroke-width="3.20" stroke-linejoin="miter" stroke-miterlimit="10"/><polygon points="661.02,818.00 649.47,794.90 672.57,794.90" fill="#17becf" stroke="#17becf" stroke-width="3.20" stroke-linejoin="miter" stroke-miterlimit="10"/><polygon points="715.76,831.50 704.21,808.40 727.31,808.40" fill="#17becf" stroke="#17becf" stroke-width="3.20" stroke-linejoin="miter" stroke-miterlimit="10"/><polygon points="770.50,850.67 758.95,827.57 782.05,827.57" fill="#17becf" stroke="#17becf" stroke-width="3.20" stroke-linejoin="miter" stroke-miterlimit="10"/><polygon points="825.24,857.63 813.69,834.53 836.79,834.53" fill="#17becf" stroke="#17becf" stroke-width="3.20" stroke-linejoin="miter" stroke-miterlimit="10"/><polygon points="879.98,868.96 868.43,845.86 891.53,845.86" fill="#17becf" stroke="#17becf" stroke-width="3.20" stroke-linejoin="miter" stroke-miterlimit="10"/><polygon points="934.72,877.67 923.17,854.57 946.27,854.57" fill="#17becf" stroke="#17becf" stroke-width="3.20" stroke-linejoin="miter" stroke-miterlimit="10"/><polygon points="989.46,884.64 977.91,861.54 1001.01,861.54" fill="#17becf" stroke="#17becf" stroke-width="3.20" stroke-linejoin="miter" stroke-miterlimit="10"/><polygon points="1044.20,892.91 1032.65,869.81 1055.75,869.81" fill="#17becf" stroke="#17becf" stroke-width="3.20" stroke-linejoin="miter" stroke-miterlimit="10"/><polygon points="1098.94,897.27 1087.39,874.17 1110.49,874.17" fill="#17becf" stroke="#17becf" stroke-width="3.20" stroke-linejoin="miter" stroke-miterlimit="10"/><polygon points="1153.68,902.49 1142.13,879.39 1165.23,879.39" fill="#17becf" stroke="#17becf" stroke-width="3.20" stroke-linejoin="miter" stroke-miterlimit="10"/><polygon points="1208.42,911.46 1196.87,888.36 1219.97,888.36" fill="#17becf" stroke="#17becf" stroke-width="3.20" stroke-linejoin="miter" stroke-miterlimit="10"/><polygon points="1263.16,915.12 1251.61,892.02 1274.71,892.02" fill="#17becf" stroke="#17becf" stroke-width="3.20" stroke-linejoin="miter" stroke-miterlimit="10"/><polygon points="1317.90,914.38 1306.35,891.28 1329.45,891.28" fill="#17becf" stroke="#17becf" stroke-width="3.20" stroke-linejoin="miter" stroke-miterlimit="10"/><polygon points="1372.64,920.26 1361.09,897.16 1384.19,897.16" fill="#17becf" stroke="#17becf" stroke-width="3.20" stroke-linejoin="miter" stroke-miterlimit="10"/><polygon points="1427.38,922.52 1415.83,899.42 1438.93,899.42" fill="#17becf" stroke="#17becf" stroke-width="3.20" stroke-linejoin="miter" stroke-miterlimit="10"/><polygon points="1482.12,930.62 1470.57,907.52 1493.67,907.52" fill="#17becf" stroke="#17becf" stroke-width="3.20" stroke-linejoin="miter" stroke-miterlimit="10"/><polygon points="1536.86,927.66 1525.31,904.56 1548.41,904.56" fill="#17becf" stroke="#17becf" stroke-width="3.20" stroke-linejoin="miter" stroke-miterlimit="10"/></g>
<polygon points="223.1,-170.4 234,262.7 245,347 255.9,375 266.9,402.5 277.8,427.1 288.8,445.5 299.7,462.9 310.7,484.9 321.6,519 332.6,538.3 343.5,552.7 354.5,572.5 365.4,584.4 376.4,599 387.3,612.5 398.3,625.1 409.2,629.4 420.2,642.6 431.1,656 442.1,668 453,671.6 464,679.4 474.9,699 485.9,703.3 496.8,707.5 507.7,713.7 518.7,724.4 529.6,722.3 540.6,740.3 551.5,745.7 562.5,749.5 573.4,763.6 584.4,757.2 595.3,763.9 606.3,770.5 617.2,779.8 628.2,777.2 639.1,780 650.1,784 661,789.1 672,792.7 682.9,794 693.9,790.6 704.8,799 715.8,799.1 726.7,805.1 737.7,801.8 748.6,815.1 759.6,819 770.5,817.2 781.4,820.1 792.4,819.5 803.3,826.7 814.3,823.1 825.2,830.7 836.2,843 847.1,842.2 858.1,839.9 869,835.7 880,838.6 890.9,850.9 901.9,847.9 912.8,857 923.8,848.8 934.7,852.1 945.7,847.3 956.6,848.3 967.6,851.5 978.5,851.7 989.5,853.1 1000.4,858.1 1011.4,856.6 1022.3,861.8 1033.3,865.7 1044.2,862.5 1055.1,861.7 1066.1,863.2 1077,860.3 1088,868.7 1098.9,866.8 1109.9,871.7 1120.8,876 1131.8,883.6 1142.7,882.4 1153.7,876.2 1164.6,879.2 1175.6,876.2 1186.5,879.2 1197.5,880.7 1208.4,883.6 1219.4,885.1 1230.3,882.2 1241.3,877.7 1252.2,886.6 1263.2,888.1 1274.1,886.6 1285.1,886.6 1296,886.6 1307,888.1 1317.9,889.5 1328.8,889.5 1339.8,889.5 1350.7,894 1361.7,888.1 1372.6,890.9 1383.6,892.5 1394.5,890.9 1405.5,898.4 1416.4,890.9 1427.4,894 1438.3,894 1449.3,890.9 1460.2,899.9 1471.2,894 1482.1,901.4 1493.1,899.9 1504,898.4 1515,899.9 1525.9,901.4 1536.9,901.4 1547.8,904.3 1558.8,902.8 1569.7,907.3 1580.7,902.8 1580.7,937.8 1569.7,937.5 1558.8,927.5 1547.8,935.1 1536.9,930.4 1525.9,929.5 1515,924.1 1504,934.5 1493.1,932.7 1482.1,935.6 1471.2,933.6 1460.2,932.1 1449.3,932.1 1438.3,928.9 1427.4,932.3 1416.4,941 1405.5,926.9 1394.5,931.1 1383.6,931.3 1372.6,925.6 1361.7,929 1350.7,927.7 1339.8,928.7 1328.8,922.6 1317.9,926.3 1307,925 1296,917.7 1285.1,925.3 1274.1,926.1 1263.2,915.5 1252.2,916.9 1241.3,913.2 1230.3,931.1 1219.4,912.4 1208.4,927.6 1197.5,917.7 1186.5,917.2 1175.6,921 1164.6,928.6 1153.7,909.2 1142.7,917.8 1131.8,909.5 1120.8,911.1 1109.9,904.6 1098.9,898.5 1088,912 1077,903.2 1066.1,896.1 1055.1,897 1044.2,898.1 1033.3,903.2 1022.3,898.6 1011.4,901.4 1000.4,890 989.5,883.6 978.5,892.9 967.6,890.3 956.6,894.3 945.7,883.6 934.7,874.7 923.8,886.1 912.8,893.2 901.9,886.5 890.9,880.3 880,875.9 869,879.6 858.1,873.2 847.1,874.5 836.2,870 825.2,874.5 814.3,864.8 803.3,867.6 792.4,857.1 781.4,849.7 770.5,848.9 759.6,867 748.6,852 737.7,837.2 726.7,843.8 715.8,832.5 704.8,839.6 693.9,832.5 682.9,839.1 672,826.3 661,828.1 650.1,826.1 639.1,819.5 628.2,816.1 617.2,819.9 606.3,802.7 595.3,799.7 584.4,798.5 573.4,794.1 562.5,794.4 551.5,785.5 540.6,777.2 529.6,763.6 518.7,767.5 507.7,756.3 496.8,743.5 485.9,745.9 474.9,739.5 464,731.9 453,732.5 442.1,722.8 431.1,714.6 420.2,695.3 409.2,692 398.3,686.3 387.3,671.3 376.4,659.1 365.4,644 354.5,630.1 343.5,606.8 332.6,594.3 321.6,572.2 310.7,549.2 299.7,518.9 288.8,496.2 277.8,473 266.9,443.8 255.9,416.7 245,389.3 234,297.9 223.1,-166" fill="#17becf" fill-opacity="0.5"/>
<polyline points="223.1,-76.7 234,249.9 245,332.6 255.9,402.3 266.9,463.3 277.8,517.3 288.8,583 299.7,620.1 310.7,652.7 321.6,681 332.6,705 343.5,737.6 354.5,742 365.4,776.8 376.4,789.9 387.3,807.3 398.3,818.2 409.2,828.2 420.2,833.5 431.1,838.7 442.1,842.4 453,852.2 464,858.7 474.9,862.2 485.9,867 496.8,871.8 507.7,881.8 518.7,888.3 529.6,889.6 540.6,891.4 551.5,899.7 562.5,890.5 573.4,901.4 584.4,907.9 595.3,911 606.3,912.7 617.2,919.2 628.2,917.5 639.1,921 650.1,919.2 661,921.9 672,925.8 682.9,925.8 693.9,924.9 704.8,935.4 715.8,933.6 726.7,941 737.7,941 748.6,939.7 759.6,945.4 770.5,947.1 781.4,951.5 792.4,945.4 803.3,950.2 814.3,958.9 825.2,950.2 836.2,958.9 847.1,954.5 858.1,958.9 869,970.6 880,958.9 890.9,960.2 901.9,961.9 912.8,961.9 923.8,960.8 934.7,963 945.7,971.1 956.6,975.4 967.6,969.8 978.5,977.2 989.5,972.6 1000.4,972.6 1011.4,972.6 1022.3,977.2 1033.3,977.2 1044.2,980.7 1055.1,978.5 1066.1,977.2 1077,981.5 1088,985.9 1098.9,980.7 1109.9,978.5 1120.8,975.4 1131.8,982.8 1142.7,978.5 1153.7,982.6 1164.6,982.6 1175.6,982.6 1186.5,976.7 1197.5,978.2 1208.4,984.1 1219.4,987 1230.3,988.5 1241.3,991.5 1252.2,990 1263.2,992.9 1274.1,985.6 1285.1,990 1296,995.9 1307,990 1317.9,982.6 1328.8,995.9 1339.8,1000.3 1350.7,992.9 1361.7,998.8 1372.6,988.5 1383.6,997.4 1394.5,988.5 1405.5,998.8 1416.4,991.5 1427.4,998.8 1438.3,1001.8 1449.3,998.8 1460.2,994.4 1471.2,991.5 1482.1,991.5 1493.1,1001.8 1504,994.4 1515,1003.3 1525.9,1000.3 1536.9,1009.2 1547.8,998.8 1558.8,1001.8 1569.7,981.1 1580.7,1006.2" fill="none" stroke="#2ca02c" stroke-width="5.45" stroke-linejoin="round" stroke-linecap="square"/>
<polyline points="223.1,-142.1 234,219.4 245,293.4 255.9,363.1 266.9,406.7 277.8,434.1 288.8,467.6 299.7,498.1 310.7,533 321.6,567.8 332.6,600.5 343.5,628.3 354.5,652.1 365.4,676.5 376.4,697 387.3,712.4 398.3,726.4 409.2,735.2 420.2,745.1 431.1,759.6 442.1,771.2 453,777 464,793.2 474.9,800.3 485.9,806.6 496.8,815.6 507.7,826.1 518.7,830.8 529.6,835.6 540.6,843.9 551.5,840.9 562.5,850.4 573.4,854.8 584.4,858.7 595.3,860.5 606.3,867 617.2,868.3 628.2,870 639.1,871.8 650.1,875.3 661,878.3 672,884 682.9,884 693.9,890.9 704.8,892.2 715.8,895.3 726.7,899.7 737.7,896.6 748.6,900.5 759.6,904 770.5,906.2 781.4,910.1 792.4,912.3 803.3,913.2 814.3,913.2 825.2,914 836.2,914.5 847.1,917.5 858.1,917.5 869,923.6 880,925.8 890.9,923.6 901.9,926.2 912.8,926.2 923.8,921 934.7,926.2 945.7,929.7 956.6,929.7 967.6,931.2 978.5,935.8 989.5,934.9 1000.4,932.7 1011.4,940.2 1022.3,935.8 1033.3,938.6 1044.2,943.2 1055.1,940.8 1066.1,942.3 1077,943.2 1088,944.5 1098.9,950.4 1109.9,944.5 1120.8,943.2 1131.8,944.5 1142.7,943.2 1153.7,950.2 1164.6,950.2 1175.6,951.6 1186.5,954.5 1197.5,950.2 1208.4,953.1 1219.4,953.1 1230.3,953.1 1241.3,953.1 1252.2,954.5 1263.2,956 1274.1,954.5 1285.1,954.5 1296,957.5 1307,957.5 1317.9,951.6 1328.8,961.9 1339.8,956 1350.7,957.5 1361.7,959 1372.6,960.4 1383.6,960.4 1394.5,959 1405.5,960.4 1416.4,961.9 1427.4,957.5 1438.3,961.9 1449.3,961.9 1460.2,960.4 1471.2,957.5 1482.1,966.1 1493.1,963.4 1504,966.4 1515,967.9 1525.9,964.9 1536.9,965.2 1547.8,963.4 1558.8,967.9 1569.7,961.9 1580.7,972.3" fill="none" stroke="#1f77b4" stroke-width="5.45" stroke-linejoin="round" stroke-linecap="square"/>
<polyline points="223.1,-172.5 234,101.8 245,202 255.9,245.5 266.9,297.8 277.8,330.5 288.8,371.8 299.7,406.7 310.7,437.2 321.6,467.6 332.6,494.2 343.5,517.7 354.5,540.3 365.4,562.5 376.4,582.4 387.3,602.6 398.3,624.4 409.2,644.4 420.2,657.1 431.1,670.1 442.1,674.1 453,691.9 464,697.6 474.9,707.2 485.9,718 496.8,724.6 507.7,734.6 518.7,742 529.6,748.5 540.6,755.1 551.5,761.6 562.5,767.2 573.4,771.8 584.4,772.2 595.3,787.2 606.3,791.2 617.2,800.5 628.2,797.4 639.1,804.3 650.1,811.2 661,813.9 672,822.5 682.9,821.7 693.9,826.5 704.8,827.4 715.8,830.4 726.7,834.8 737.7,834.8 748.6,843.5 759.6,846.5 770.5,846.5 781.4,852.6 792.4,849.6 803.3,860 814.3,852.6 825.2,855.7 836.2,862.6 847.1,868.7 858.1,862.6 869,868.7 880,870 890.9,871.8 901.9,873.1 912.8,870 923.8,875.1 934.7,880.9 945.7,876.6 956.6,873.5 967.6,884 978.5,887 989.5,891.4 1000.4,894.4 1011.4,894.4 1022.3,891.4 1033.3,887 1044.2,894.4 1055.1,892.8 1066.1,898.8 1077,900.1 1088,900.1 1098.9,901 1109.9,897.5 1120.8,902.4 1131.8,904.7 1142.7,906.2 1153.7,908.7 1164.6,911.7 1175.6,904.3 1186.5,911.7 1197.5,913.2 1208.4,908.7 1219.4,908.7 1230.3,914.7 1241.3,911.7 1252.2,916.1 1263.2,917.6 1274.1,917.6 1285.1,916.1 1296,925 1307,919.1 1317.9,920.6 1328.8,920.6 1339.8,920.6 1350.7,919.1 1361.7,922 1372.6,923.5 1383.6,925 1394.5,923.5 1405.5,922 1416.4,914.7 1427.4,917.6 1438.3,926.5 1449.3,929.4 1460.2,923.5 1471.2,929.4 1482.1,926.5 1493.1,929.4 1504,932.4 1515,932.4 1525.9,936.8 1536.9,935.3 1547.8,926.5 1558.8,932.4 1569.7,933.9 1580.7,929.4" fill="none" stroke="#ff7f0e" stroke-width="5.45" stroke-linejoin="round" stroke-linecap="square"/>
<polyline points="223.1,-216.1 234,141 245,219.4 255.9,256.4 266.9,271.7 277.8,294.3 288.8,313 299.7,324.4 310.7,343.1 321.6,362.2 332.6,381.8 343.5,398 354.5,407.1 365.4,418.4 376.4,434.5 387.3,452.8 398.3,463.7 409.2,476.8 420.2,482 431.1,491.6 442.1,495.5 453,519.9 464,526.4 474.9,540.8 485.9,546.9 496.8,557.3 507.7,569.5 518.7,581.7 529.6,586.1 540.6,596.1 551.5,605.3 562.5,615.7 573.4,618.8 584.4,628.8 595.3,633.1 606.3,649.2 617.2,657.5 628.2,659.7 639.1,662.7 650.1,668 661,683.2 672,683.6 682.9,691.5 693.9,696.7 704.8,699.8 715.8,708 726.7,713.7 737.7,717.6 748.6,725 759.6,729.8 770.5,731.5 781.4,740.7 792.4,741.6 803.3,747.2 814.3,752.9 825.2,756.4 836.2,756.8 847.1,759.4 858.1,766 869,773.4 880,773.8 890.9,780.3 901.9,780.3 912.8,779 923.8,785.1 934.7,792.5 945.7,794.7 956.6,793.8 967.6,797.3 978.5,793.8 989.5,806.9 1000.4,804.7 1011.4,808.6 1022.3,809.5 1033.3,816 1044.2,820.4 1055.1,819.1 1066.1,819.1 1077,826.5 1088,820.4 1098.9,826.5 1109.9,829.5 1120.8,823.9 1131.8,836.9 1142.7,833.9 1153.7,834.3 1164.6,835.6 1175.6,835.6 1186.5,844.3 1197.5,838.2 1208.4,844.3 1219.4,847 1230.3,844.3 1241.3,839.1 1252.2,847 1263.2,852.2 1274.1,852.2 1285.1,851.3 1296,847 1307,855.7 1317.9,858.7 1328.8,863.5 1339.8,866.1 1350.7,867 1361.7,857.8 1372.6,870.5 1383.6,866.1 1394.5,868.7 1405.5,871.3 1416.4,873.1 1427.4,872.2 1438.3,874 1449.3,874 1460.2,873.1 1471.2,874.8 1482.1,876.6 1493.1,876.6 1504,877 1515,882.2 1525.9,874.8 1536.9,877 1547.8,883.1 1558.8,877 1569.7,888.3 1580.7,889.2" fill="none" stroke="#000000" stroke-width="5.45" stroke-linejoin="round" stroke-linecap="square"/>
<polyline points="223.1,-194.3 234,149.7 245,263 255.9,315.2 266.9,354.4 277.8,388.4 288.8,419.7 299.7,445.9 310.7,468.1 321.6,487.7 332.6,506 343.5,527.3 354.5,540.8 365.4,554.3 376.4,567.4 387.3,583 398.3,598.3 409.2,604.8 420.2,609.6 431.1,629.2 442.1,639.7 453,647.1 464,658.4 474.9,660.6 485.9,667.1 496.8,680.2 507.7,681.9 518.7,688.4 529.6,695.4 540.6,703.2 551.5,702.4 562.5,713.3 573.4,716.3 584.4,722.8 595.3,728.1 606.3,729.8 617.2,736.3 628.2,739.4 639.1,741.1 650.1,747.7 661,752.5 672,757.7 682.9,760.7 693.9,765.1 704.8,769.4 715.8,773.4 726.7,777.7 737.7,777.7 748.6,777.7 759.6,781.6 770.5,784.2 781.4,789 792.4,793.8 803.3,795.6 814.3,796.4 825.2,797.3 836.2,802.1 847.1,805.6 858.1,805.6 869,806.9 880,808.2 890.9,809.9 901.9,810.8 912.8,811.7 923.8,816 934.7,813.9 945.7,819.1 956.6,820.4 967.6,820.4 978.5,823.4 989.5,827.8 1000.4,824.7 1011.4,820.4 1022.3,826.5 1033.3,832.1 1044.2,835.6 1055.1,835.2 1066.1,835.2 1077,836.5 1088,838.2 1098.9,838.7 1109.9,841.8 1120.8,838.5 1131.8,845.3 1142.7,843.4 1153.7,845.6 1164.6,846.5 1175.6,847 1186.5,844.3 1197.5,847 1208.4,847.8 1219.4,848.3 1230.3,849.1 1241.3,852.2 1252.2,851.7 1263.2,852.6 1274.1,853.9 1285.1,854.8 1296,856.5 1307,857.8 1317.9,859.6 1328.8,858.3 1339.8,860.5 1350.7,861.8 1361.7,862.6 1372.6,863.5 1383.6,864.8 1394.5,865.7 1405.5,868.3 1416.4,867.9 1427.4,869.2 1438.3,869.6 1449.3,870 1460.2,869.2 1471.2,871.3 1482.1,872.2 1493.1,873.1 1504,874 1515,876.1 1525.9,873.5 1536.9,872.7 1547.8,871.3 1558.8,870.5 1569.7,875.3 1580.7,880.5" fill="none" stroke="#9467bd" stroke-width="5.45" stroke-linejoin="round" stroke-linecap="square"/>
<polyline points="223.1,-168.2 234,280.4 245,369.6 255.9,402.3 266.9,432.8 277.8,454.6 288.8,476.3 299.7,498.1 310.7,524.3 321.6,550.4 332.6,573.5 343.5,586.8 354.5,604.7 365.4,617.4 376.4,634.1 387.3,643.6 398.3,658.1 409.2,666.6 420.2,676.2 431.1,688.3 442.1,696.7 453,704.2 464,710.3 474.9,723.1 485.9,726.1 496.8,732.4 507.7,734.7 518.7,741.5 529.6,749.5 540.6,755.2 551.5,762.5 562.5,763.6 573.4,777.2 584.4,779.7 595.3,783.9 606.3,789.9 617.2,796.9 628.2,796.9 639.1,800.1 650.1,805.5 661,806.5 672,808.5 682.9,813.4 693.9,813.7 704.8,812.4 715.8,820 726.7,824 737.7,824.3 748.6,834.7 759.6,838.3 770.5,839.1 781.4,841.8 792.4,838.8 803.3,843.1 814.3,842.3 825.2,846.1 836.2,853.8 847.1,847.3 858.1,854.2 869,858.3 880,857.4 890.9,862.1 901.9,868.1 912.8,869.5 923.8,866.1 934.7,866.1 945.7,866.1 956.6,872.2 967.6,873.5 978.5,873.5 989.5,873.1 1000.4,876.6 1011.4,878.1 1022.3,879.6 1033.3,882.5 1044.2,881.4 1055.1,884 1066.1,887 1077,879.6 1088,888.4 1098.9,885.7 1109.9,889.9 1120.8,889.9 1131.8,891.4 1142.7,894.3 1153.7,890.9 1164.6,896.9 1175.6,898.4 1186.5,896.9 1197.5,901.4 1208.4,899.9 1219.4,901.4 1230.3,904.3 1241.3,898.4 1252.2,901.4 1263.2,903.6 1274.1,904.3 1285.1,902.8 1296,904.3 1307,904.3 1317.9,902.8 1328.8,904.3 1339.8,907.3 1350.7,908.7 1361.7,907.3 1372.6,908.7 1383.6,908.7 1394.5,910.2 1405.5,910.2 1416.4,913.2 1427.4,911 1438.3,914.7 1449.3,916.1 1460.2,917.6 1471.2,916.1 1482.1,919.1 1493.1,917.6 1504,917.6 1515,914.7 1525.9,914.7 1536.9,916.1 1547.8,920.6 1558.8,919.1 1569.7,914.7 1580.7,917.6" fill="none" stroke="#17becf" stroke-width="5.45" stroke-linejoin="round" stroke-linecap="square"/></g>
<rect x="155.25" y="1.60" width="1493.35" height="1088.80" fill="none" stroke="#000" stroke-width="3.33" stroke-linejoin="miter"/>
<line x1="223.10" y1="1090.40" x2="223.10" y2="1103.60" stroke="#000" stroke-width="3.33"/>
<text x="223.10" y="1151" class="tk" text-anchor="middle">0</text>
<line x1="442.06" y1="1090.40" x2="442.06" y2="1103.60" stroke="#000" stroke-width="3.33"/>
<text x="442.06" y="1151" class="tk" text-anchor="middle">100</text>
<line x1="661.02" y1="1090.40" x2="661.02" y2="1103.60" stroke="#000" stroke-width="3.33"/>
<text x="661.02" y="1151" class="tk" text-anchor="middle">200</text>
<line x1="879.98" y1="1090.40" x2="879.98" y2="1103.60" stroke="#000" stroke-width="3.33"/>
<text x="879.98" y="1151" class="tk" text-anchor="middle">300</text>
<line x1="1098.94" y1="1090.40" x2="1098.94" y2="1103.60" stroke="#000" stroke-width="3.33"/>
<text x="1098.94" y="1151" class="tk" text-anchor="middle">400</text>
<line x1="1317.90" y1="1090.40" x2="1317.90" y2="1103.60" stroke="#000" stroke-width="3.33"/>
<text x="1317.90" y="1151" class="tk" text-anchor="middle">500</text>
<line x1="1536.86" y1="1090.40" x2="1536.86" y2="1103.60" stroke="#000" stroke-width="3.33"/>
<text x="1536.86" y="1151" class="tk" text-anchor="middle">600</text>
<line x1="142.05" y1="1090.40" x2="155.25" y2="1090.40" stroke="#000" stroke-width="3.33"/>
<text x="129.5" y="1107.60" class="tk" text-anchor="end">0</text>
<line x1="142.05" y1="872.65" x2="155.25" y2="872.65" stroke="#000" stroke-width="3.33"/>
<text x="129.5" y="889.85" class="tk" text-anchor="end">0.5</text>
<line x1="142.05" y1="654.90" x2="155.25" y2="654.90" stroke="#000" stroke-width="3.33"/>
<text x="129.5" y="672.10" class="tk" text-anchor="end">1</text>
<line x1="142.05" y1="437.15" x2="155.25" y2="437.15" stroke="#000" stroke-width="3.33"/>
<text x="129.5" y="454.35" class="tk" text-anchor="end">1.5</text>
<line x1="142.05" y1="219.40" x2="155.25" y2="219.40" stroke="#000" stroke-width="3.33"/>
<text x="129.5" y="236.60" class="tk" text-anchor="end">2</text>
<text x="901.0" y="1209.7" class="tk" text-anchor="middle" letter-spacing="-0.4">Episode</text>
<text x="0" y="0" class="tk" text-anchor="middle" letter-spacing="-0.55" transform="translate(32.5 545.4) rotate(-90)">Loss</text>
<line x1="1236.7" y1="48.30" x2="1317.3" y2="48.30" stroke="#2ca02c" stroke-width="5.45"/>
<circle cx="1277.00" cy="48.30" r="11.55" fill="#2ca02c" stroke="#2ca02c" stroke-width="3.20" stroke-linejoin="miter" stroke-miterlimit="10"/>
<text x="1344.8" y="61.40" class="lg">Combined</text>
<line x1="1236.7" y1="101.47" x2="1317.3" y2="101.47" stroke="#1f77b4" stroke-width="5.45"/>
<polygon points="1277.00,89.92 1265.45,113.02 1288.55,113.02" fill="#1f77b4" stroke="#1f77b4" stroke-width="3.20" stroke-linejoin="miter" stroke-miterlimit="10"/>
<text x="1344.8" y="114.57" class="lg">Head (coupled)</text>
<line x1="1236.7" y1="154.64" x2="1317.3" y2="154.64" stroke="#ff7f0e" stroke-width="5.45"/>
<polygon points="1277.00,166.19 1265.45,143.09 1288.55,143.09" fill="#ff7f0e" stroke="#ff7f0e" stroke-width="3.20" stroke-linejoin="miter" stroke-miterlimit="10"/>
<text x="1344.8" y="167.74" class="lg">Tail (coupled)</text>
<line x1="1236.7" y1="207.81" x2="1317.3" y2="207.81" stroke="#000000" stroke-width="5.45"/>
<rect x="1265.45" y="196.26" width="23.10" height="23.10" fill="#000000" stroke="#000000" stroke-width="3.20" stroke-linejoin="miter" stroke-miterlimit="10"/>
<text x="1344.8" y="220.91" class="lg">Rigid</text>
<line x1="1236.7" y1="260.98" x2="1317.3" y2="260.98" stroke="#9467bd" stroke-width="5.45"/>
<polygon points="1277.00,249.43 1265.45,272.53 1288.55,272.53" fill="#9467bd" stroke="#9467bd" stroke-width="3.20" stroke-linejoin="miter" stroke-miterlimit="10"/>
<text x="1344.8" y="274.08" class="lg">Head (uncoupled)</text>
<line x1="1236.7" y1="314.15" x2="1317.3" y2="314.15" stroke="#17becf" stroke-width="5.45"/>
<polygon points="1277.00,325.70 1265.45,302.60 1288.55,302.60" fill="#17becf" stroke="#17becf" stroke-width="3.20" stroke-linejoin="miter" stroke-miterlimit="10"/>
<text x="1344.8" y="327.25" class="lg">Tail (uncoupled)</text></svg>
</body></html>
